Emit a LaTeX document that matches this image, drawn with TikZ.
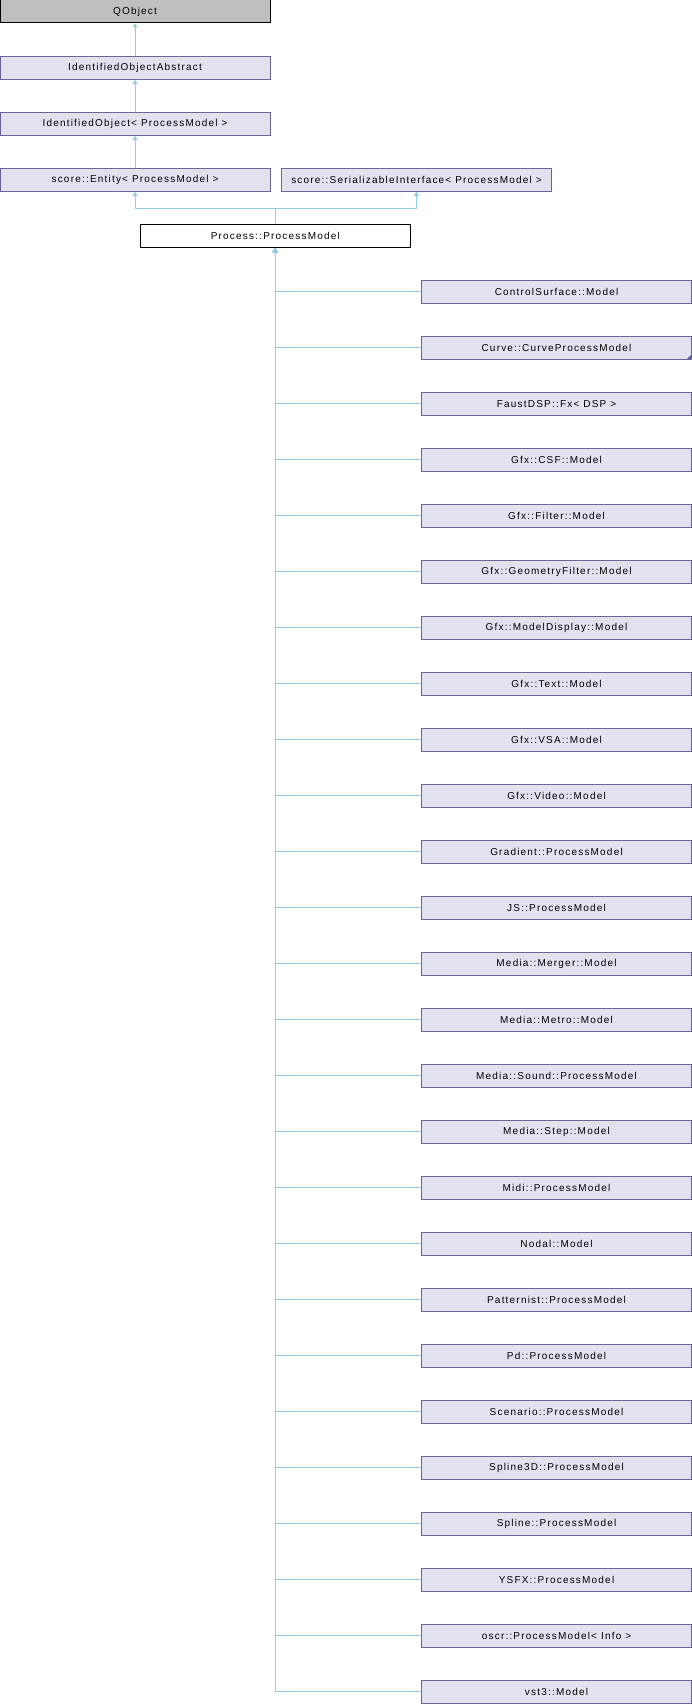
\documentclass[tikz,border=0pt]{standalone}
\usepackage{fontspec}
\setmainfont{Liberation Sans}[LetterSpace=12]
\usetikzlibrary{arrows.meta}
\definecolor{boxfill}{HTML}{E2E2EF}
\definecolor{boxline}{HTML}{666699}
\definecolor{extfill}{HTML}{BFBFBF}
\definecolor{edgeblue}{HTML}{8FCBEA}
\tikzset{
  cls/.style={draw=boxline, fill=boxfill, line width=1pt, minimum width=270pt,
    minimum height=23pt, inner sep=0pt, font=\fontsize{10}{12}\selectfont},
  ext/.style={cls, draw=black, fill=extfill},
  cur/.style={cls, draw=black, fill=white},
  inh/.style={draw=edgeblue, line width=1pt, -{Triangle[width=5pt,length=4pt]}}
}

\begin{document}
\begin{tikzpicture}[x=1pt, y=-1pt]
    \useasboundingbox (0,0) rectangle (692,1704);
    \node[ext] (QObject) at (135,11.5) {QObject};
    \node[cls] (IOA) at (135,67.8) {IdentifiedObjectAbstract};
    \node[cls] (IO) at (135,123.8) {IdentifiedObject< ProcessModel >};
    \node[cls] (Entity) at (135,179.8) {score::Entity< ProcessModel >};
    \node[cls] (Serial) at (416.5,179.8) {score::SerializableInterface< ProcessModel >};
    \node[cur] (Proc) at (275.3,236.2) {Process::ProcessModel};
    \draw[inh] (IOA) -- (QObject);
    \draw[inh] (IO) -- (IOA);
    \draw[inh] (Entity) -- (IO);
    \coordinate (J) at (275.3,208.3);
    \draw[inh] (Proc.north) -- (J) -| (Entity.south);
    \draw[inh] (Proc.north) -- (J) -| (Serial.south);
    % classi derivate
    \foreach \lbl [count=\i] in {ControlSurface::Model, Curve::CurveProcessModel,
        FaustDSP::Fx< DSP >, Gfx::CSF::Model, Gfx::Filter::Model,
        Gfx::GeometryFilter::Model, Gfx::ModelDisplay::Model, Gfx::Text::Model,
        Gfx::VSA::Model, Gfx::Video::Model, Gradient::ProcessModel,
        JS::ProcessModel, Media::Merger::Model, Media::Metro::Model,
        Media::Sound::ProcessModel, Media::Step::Model, Midi::ProcessModel,
        Nodal::Model, Patternist::ProcessModel, Pd::ProcessModel,
        Scenario::ProcessModel, Spline3D::ProcessModel, Spline::ProcessModel,
        YSFX::ProcessModel, oscr::ProcessModel< Info >, vst3::Model}
    {
        \node[cls] (C\i) at (556.5,{291.8+56*(\i-1)}) {\lbl};
        \draw[inh] (C\i.west) -| (Proc.south);
    }
    % segno di classe troncata
    \fill[boxline] (C2.south east) -- ++(-6,0) -- ++(6,-6) -- cycle;
\end{tikzpicture}
\end{document}
